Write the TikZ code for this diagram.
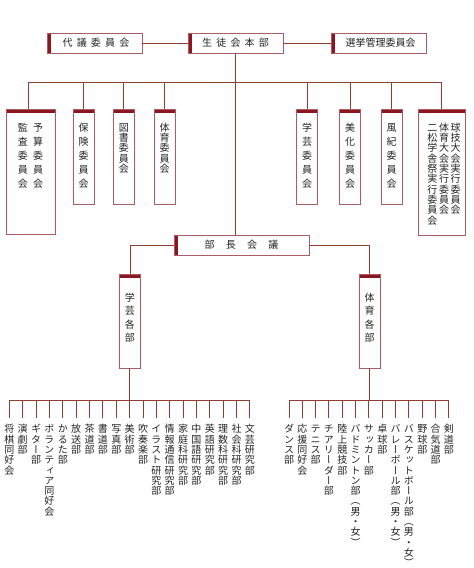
\documentclass[tikz,border=0pt]{standalone}
\usepackage{fontspec}
\newfontfamily\jp{Noto Sans CJK JP}
\newfontfamily\vjp[RawFeature=+vert]{Noto Sans CJK JP}
\definecolor{linec}{RGB}{145,62,50}
\definecolor{boxc}{RGB}{172,92,100}
\definecolor{barc}{RGB}{140,22,32}
\definecolor{txtc}{RGB}{35,35,35}
\makeatletter
\newcommand\tate[2][10.3pt]{\vtop{\baselineskip=#1\lineskiplimit=-20pt\lineskip=0pt\@tfor\tt@c:=#2\do{\hbox to 10pt{\hss\tt@c\hss\vrule height 8.8pt depth 0.8pt width 0pt}}}}
\newcommand\hsp[2]{\@tfor\hs@c:=#2\do{\hs@c\kern#1}\unkern}
\makeatother
\newcommand\vin[3]{\vbox to #1{\vskip #2\hbox{#3}\vfil}}
\begin{document}
\begin{tikzpicture}[x=1pt,y=-1pt,
  every node/.style={font=\vjp\fontsize{10pt}{12pt}\selectfont, text=txtc, inner sep=0pt, outer sep=0pt},
  conn/.style={draw=linec, line width=1pt},
  hbox/.style={draw=boxc, line width=1pt, minimum height=20pt,
    path picture={\fill[barc] (path picture bounding box.north west) rectangle ([xshift=3.5pt]path picture bounding box.south west);}},
  vbx/.style={draw=boxc, line width=1pt, anchor=north,
    path picture={\fill[barc] (path picture bounding box.north west) rectangle ([yshift=-4pt]path picture bounding box.north east);}}
]
\useasboundingbox (0,0) rectangle (474,568);
% top row
\node[hbox, minimum width=95pt] (daigi) at (94.5,43) {\jp\kern3pt\hsp{4.2pt}{代議委員会}};
\node[hbox, minimum width=95pt] (honbu) at (235.5,43) {\jp\hsp{4.2pt}{生徒会本部}};
\node[hbox, minimum width=95pt] (senkyo) at (378.5,43) {\jp\kern4pt 選挙管理委員会};
\draw[conn] (daigi) -- (honbu);
\draw[conn] (honbu) -- (senkyo);
% committees
\node[vbx, minimum width=49pt, minimum height=125pt] (kansa) at (30.5,109)
  {\vin{125pt}{13.5pt}{\tate[14pt]{監査委員会}\kern5.3pt\tate[14pt]{予算委員会}}};
\node[vbx, minimum width=21pt, minimum height=95pt] (hoken) at (83.5,109) {\vin{95pt}{13.5pt}{\tate[14pt]{保険委員会}}};
\node[vbx, minimum width=21pt, minimum height=95pt] (tosho) at (123.8,109) {\vin{95pt}{13.5pt}{\tate{図書委員会}}};
\node[vbx, minimum width=21pt, minimum height=95pt] (taiikuI) at (164.6,109) {\vin{95pt}{13.5pt}{\tate{体育委員会}}};
\node[vbx, minimum width=21pt, minimum height=95pt] (gakugeiI) at (307,109) {\vin{95pt}{13.5pt}{\tate[14pt]{学芸委員会}}};
\node[vbx, minimum width=21pt, minimum height=95pt] (bika) at (350,109) {\vin{95pt}{13.5pt}{\tate[14pt]{美化委員会}}};
\node[vbx, minimum width=21pt, minimum height=95pt] (fuki) at (391.5,109) {\vin{95pt}{13.5pt}{\tate[14pt]{風紀委員会}}};
\node[vbx, minimum width=47pt, minimum height=126pt] (kyugi) at (441.5,109)
  {\vin{126pt}{13.5pt}{\kern5pt\tate{二松学舎祭実行委員会}\kern1.7pt\tate{体育大会実行委員会}\kern1.7pt\tate{球技大会実行委員会}}};
\coordinate (bus) at (0,82);
\draw[conn] ([xshift=-2.5pt]kansa.north) -- ([xshift=-2.5pt]kansa.north |- bus) -- (kyugi.north |- bus) -- (kyugi.north);
\foreach \n in {hoken,tosho,taiikuI,gakugeiI,bika,fuki}{\draw[conn] (\n.north) -- (\n.north |- bus);}
% bucho
\node[hbox, minimum width=135pt] (bucho) at (241.5,245) {\jp\hsp{11.3pt}{部長会議}};
\draw[conn] (honbu.south) -- (honbu.south |- bucho.north);
\node[vbx, minimum width=21pt, minimum height=94pt] (gakugei) at (129.8,274) {\vin{94pt}{18.5pt}{\tate[13.5pt]{学芸各部}}};
\node[vbx, minimum width=21pt, minimum height=94pt] (taiiku) at (369.5,274) {\vin{94pt}{18.5pt}{\tate[13.5pt]{体育各部}}};
\draw[conn] (bucho.west) -| ([xshift=1pt]gakugei.north);
\draw[conn] (bucho.east) -| (taiiku.north);
% clubs
\coordinate (lbus) at (0,400);
\foreach \t [count=\i from 0] in {将棋同好会,演劇部,ギター部,ボランティア同好会,かるた部,放送部,茶道部,書道部,写真部,美術部,吹奏楽部,イラスト研究部,情報通信研究部,家庭科研究部,中国語研究部,英語研究部,理数科研究部,社会科研究部,文芸研究部}{
  \node[anchor=north] (L\i) at ({9.3+13.37*\i},424) {\expandafter\tate\expandafter{\t}};
  \draw[conn] (L\i.north |- lbus) -- ([yshift=6pt]L\i.north);
}
\foreach \t [count=\i from 0] in {ダンス部,応援同好会,テニス部,チアリーダー部,陸上競技部,バドミントン部（男・女）,サッカー部,卓球部,バレーボール部（男・女）,バスケットボール部（男・女）,野球部,合気道部,剣道部}{
  \node[anchor=north] (R\i) at ({289+13.33*\i},424) {\expandafter\tate\expandafter{\t}};
  \draw[conn] (R\i.north |- lbus) -- ([yshift=6pt]R\i.north);
}
\draw[conn] (L0.north |- lbus) -- (L18.north |- lbus);
\draw[conn] (R0.north |- lbus) -- (R12.north |- lbus);
\draw[conn] (gakugei.south) -- (gakugei.south |- lbus);
\draw[conn] (taiiku.south) -- (taiiku.south |- lbus);
\end{tikzpicture}
\end{document}
